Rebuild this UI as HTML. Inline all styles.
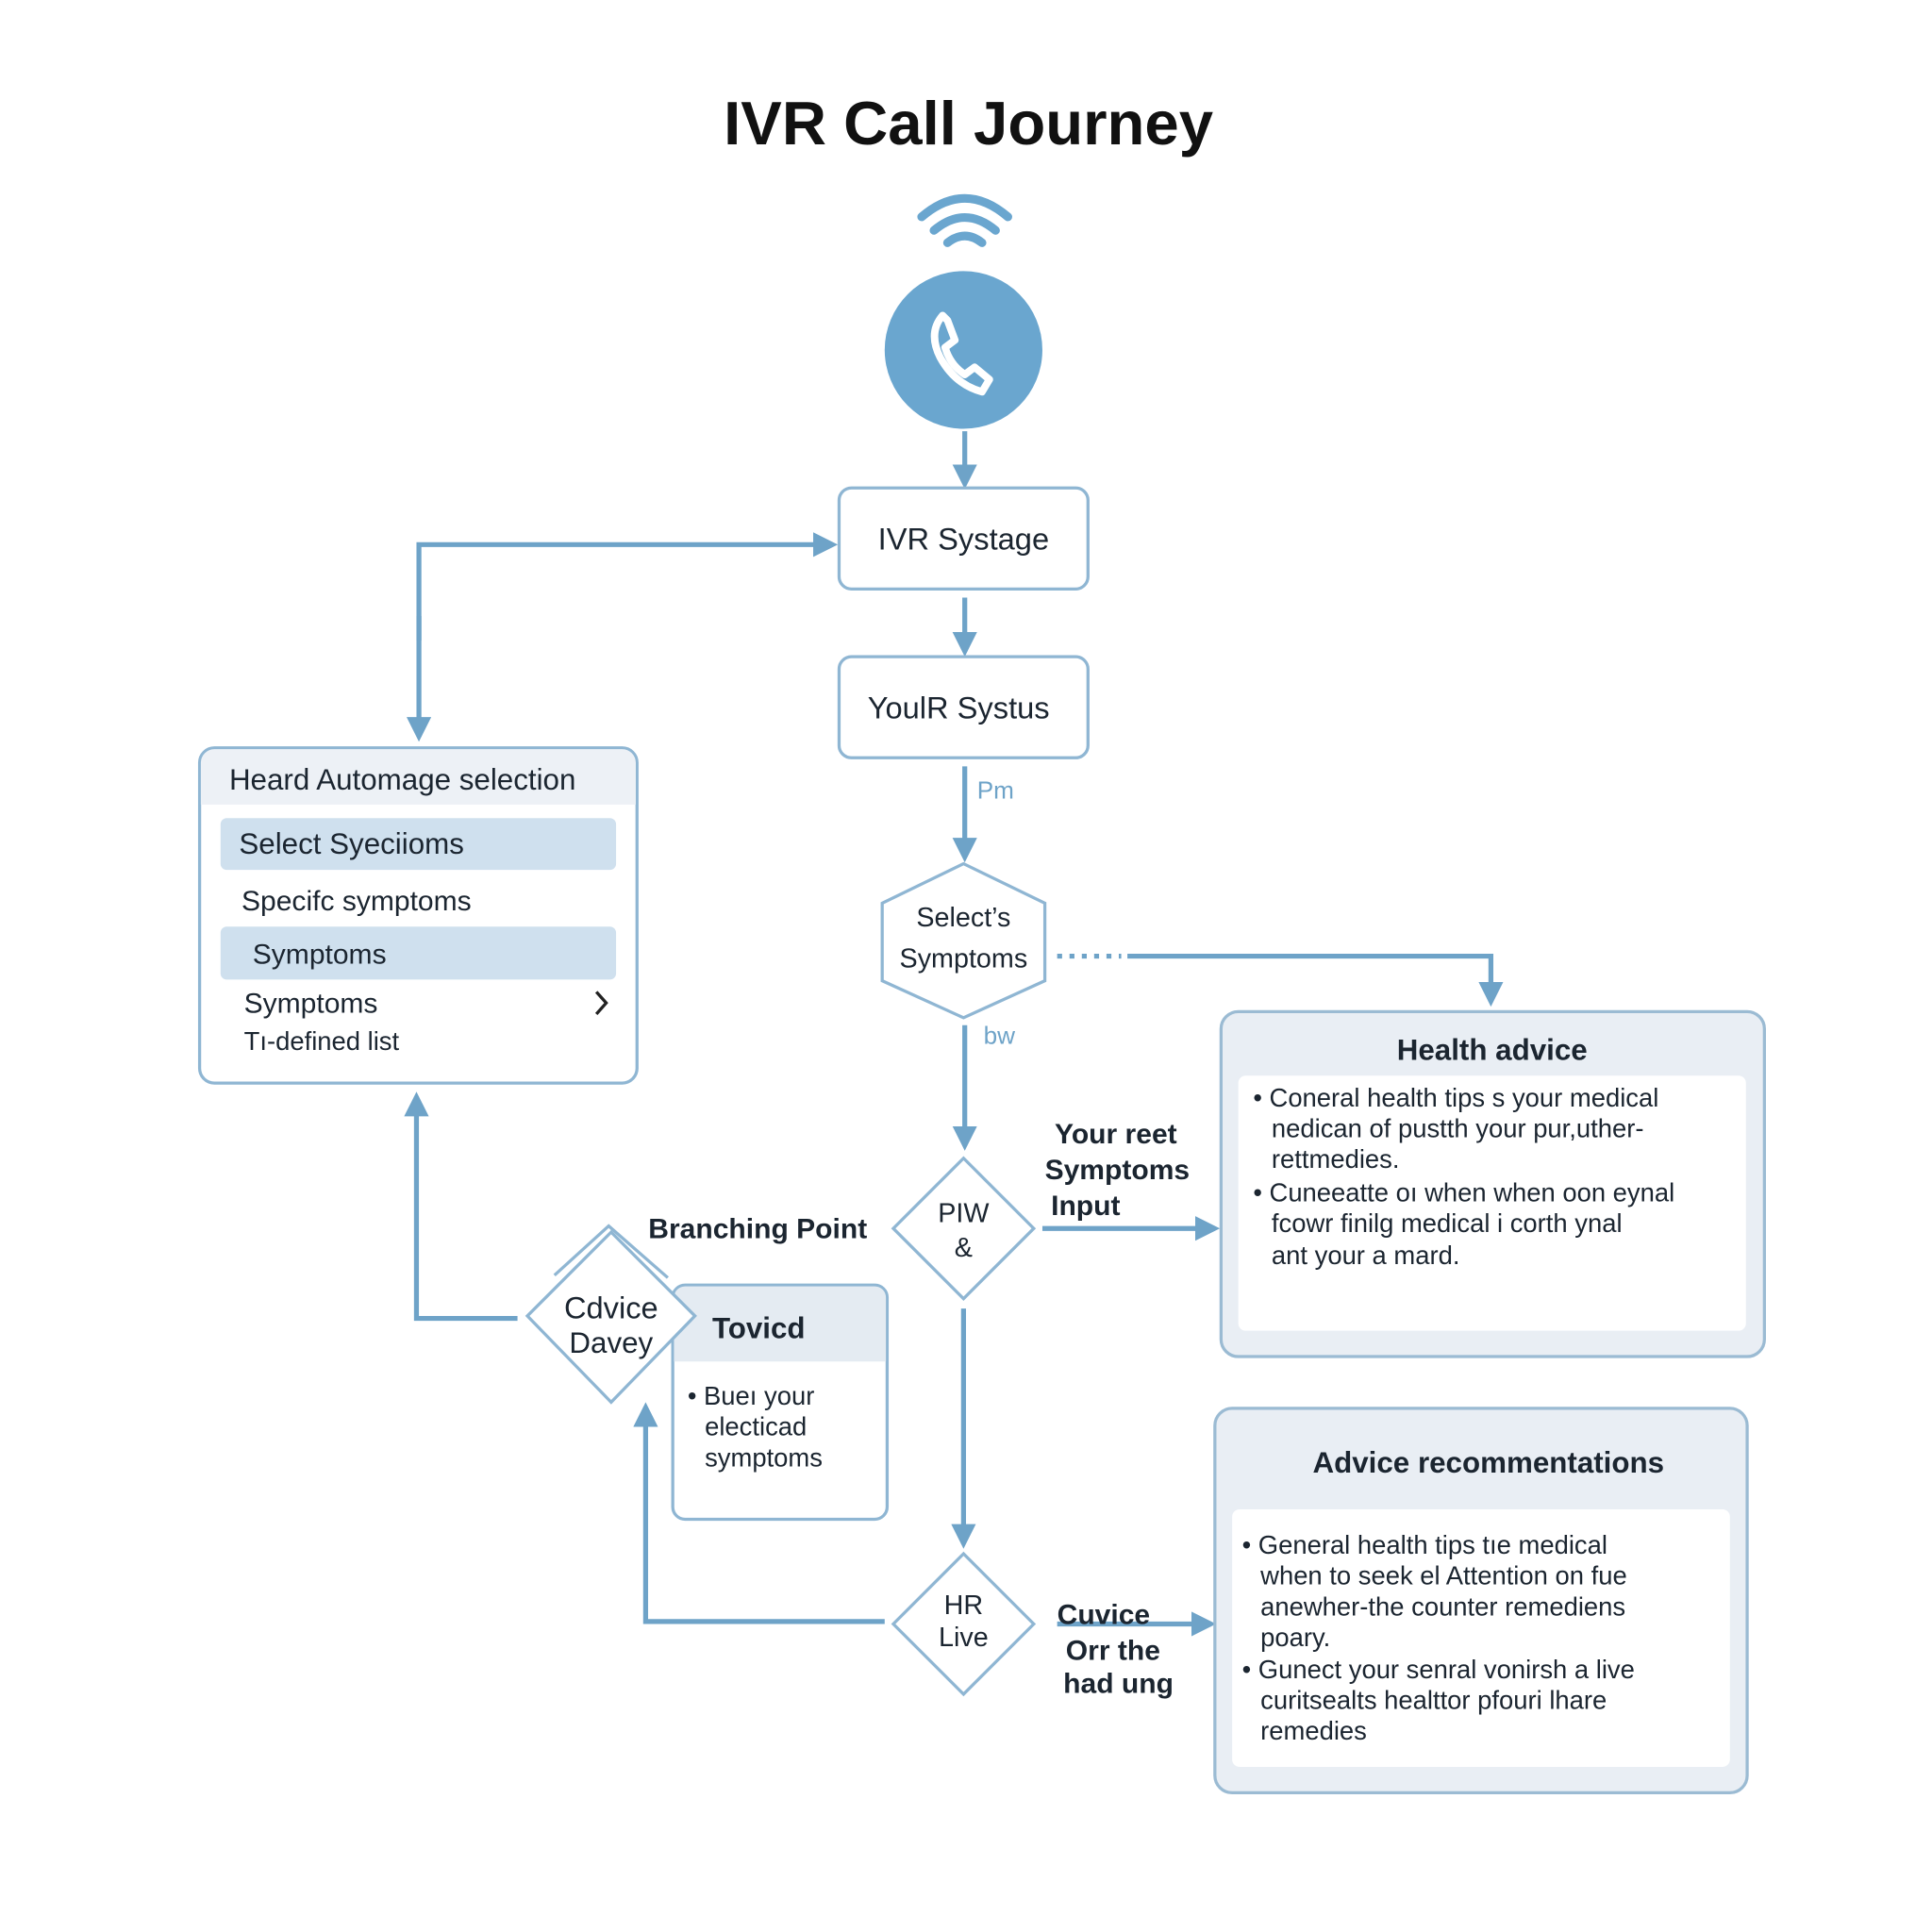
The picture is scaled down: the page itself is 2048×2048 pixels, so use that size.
<!DOCTYPE html>
<html><head><meta charset="utf-8"><style>
html,body{margin:0;padding:0;background:#fff}
svg{display:block}
text{font-family:"Liberation Sans","DejaVu Sans",sans-serif;fill:#1b2530}
</style></head><body>
<svg width="2048" height="2048" viewBox="0 0 1568 1568" xmlns="http://www.w3.org/2000/svg">
<defs>
<marker id="a" viewBox="0 0 10 10" refX="8" refY="5" markerWidth="5" markerHeight="5" orient="auto"><path d="M0,0L10,5L0,10z" fill="#6ea3c8"/></marker>
</defs>
<rect width="1568" height="1568" fill="#fff"/>
<text x="786" y="117" font-size="50" font-weight="bold" text-anchor="middle" style="fill:#111">IVR Call Journey</text>
<g fill="none" stroke="#6aa6cf" stroke-width="7" stroke-linecap="round">
<path d="M748,176 Q783,146 818,176"/><path d="M758,187 Q783,166 808,187"/><path d="M769,197 Q783,186 797,197"/>
</g>
<circle cx="782" cy="284" r="64" fill="#6aa6cf"/>
<path d="M765,256 q-12,14 -2,34 q12,22 34,28 l6,-10 l-12,-10 l-8,6 q-12,-8 -16,-22 l8,-6 l-6,-16z" fill="none" stroke="#fff" stroke-width="6" stroke-linejoin="round"/>
<g stroke="#6ea3c8" stroke-width="4" fill="none" marker-end="url(#a)">
<line x1="783" y1="350" x2="783" y2="393"/>
<line x1="783" y1="485" x2="783" y2="529"/>
<line x1="783" y1="622" x2="783" y2="696"/>
<path d="M915,776 H1210 V813"/>
<line x1="783" y1="832" x2="783" y2="930"/>
<line x1="846" y1="997" x2="986" y2="997"/>
<line x1="782" y1="1062" x2="782" y2="1253"/>
<line x1="858" y1="1318" x2="983" y2="1318"/>
<path d="M718,1316 H524 V1142"/>
<path d="M420,1070 H338 V890"/>
<path d="M340,520 V442 H676"/>
<line x1="340" y1="500" x2="340" y2="598"/>
</g>
<line x1="858" y1="776" x2="910" y2="776" stroke="#6ea3c8" stroke-width="4" stroke-dasharray="4,6"/>
<text x="808" y="648" font-size="20" text-anchor="middle" style="fill:#6ea3c8">Pm</text>
<text x="811" y="847" font-size="20" text-anchor="middle" style="fill:#6ea3c8">bw</text>
<g fill="#fff" stroke="#8fb6d3" stroke-width="2.5">
<rect x="681" y="396" width="202" height="82" rx="10"/>
<rect x="681" y="533" width="202" height="82" rx="10"/>
<polygon points="782,701 848,733 848,796 782,826 716,796 716,733"/>
<polygon points="782,940 839,997 782,1054 725,997"/>
<polygon points="782,1261 839,1318 782,1375 725,1318"/>
</g>
<text x="782" y="446" font-size="25" text-anchor="middle">IVR Systage</text>
<text x="778" y="583" font-size="25" text-anchor="middle">YoulR Systus</text>
<text x="782" y="752" font-size="22" text-anchor="middle">Select’s</text>
<text x="782" y="785" font-size="22" text-anchor="middle">Symptoms</text>
<text x="782" y="992" font-size="22" text-anchor="middle">PIW</text>
<text x="782" y="1020" font-size="22" text-anchor="middle">&amp;</text>
<text x="782" y="1310" font-size="22" text-anchor="middle">HR</text>
<text x="782" y="1336" font-size="22" text-anchor="middle">Live</text>
<text font-size="23" font-weight="bold"><tspan x="856" y="928">Your reet</tspan><tspan x="848" y="957">Symptoms</tspan><tspan x="853" y="986">Input</tspan></text>
<text font-size="23" font-weight="bold"><tspan x="858" y="1318">Cuvice</tspan><tspan x="865" y="1347">Orr the</tspan><tspan x="863" y="1374">had ung</tspan></text>
<text x="615" y="1005" font-size="23" font-weight="bold" text-anchor="middle">Branching Point</text>
<rect x="991" y="821" width="441" height="280" rx="14" fill="#e9eef4" stroke="#9bbbd3" stroke-width="2.5"/>
<rect x="1005" y="873" width="412" height="207" rx="6" fill="#fff"/>
<text x="1211" y="860" font-size="24" font-weight="bold" text-anchor="middle">Health advice</text>
<text font-size="21"><tspan x="1017" y="898">• Coneral health tips s your medical</tspan><tspan x="1032" y="923">nedican of pustth your pur,uther-</tspan><tspan x="1032" y="948">rettmedies.</tspan><tspan x="1017" y="975">• Cuneeatte oı when when oon eynal</tspan><tspan x="1032" y="1000">fcowr finilg medical i corth ynal</tspan><tspan x="1032" y="1026">ant your a mard.</tspan></text>
<rect x="986" y="1143" width="432" height="312" rx="14" fill="#e9eef4" stroke="#9bbbd3" stroke-width="2.5"/>
<rect x="1000" y="1225" width="404" height="209" rx="6" fill="#fff"/>
<text x="1208" y="1195" font-size="24" font-weight="bold" text-anchor="middle">Advice recommentations</text>
<text font-size="21"><tspan x="1008" y="1261">• General health tips tıe medical</tspan><tspan x="1023" y="1286">when to seek el Attention on fue</tspan><tspan x="1023" y="1311">anewher-the counter remediens</tspan><tspan x="1023" y="1336">poary.</tspan><tspan x="1008" y="1362">• Gunect your senral vonirsh a live</tspan><tspan x="1023" y="1387">curitsealts healttor pfouri lhare</tspan><tspan x="1023" y="1412">remedies</tspan></text>
<polyline points="450,1035 494,995 542,1037" fill="none" stroke="#8fb6d3" stroke-width="2.5"/>
<rect x="546" y="1043" width="174" height="190" rx="10" fill="#fff" stroke="#8fb6d3" stroke-width="2.5"/>
<path d="M547,1105 V1053 a9,9 0 0 1 9,-9 H710 a9,9 0 0 1 9,9 V1105z" fill="#e4ebf2"/>
<polygon points="496,1000 564,1068 496,1138 428,1068" fill="#fff" stroke="#8fb6d3" stroke-width="2.5"/>
<text x="578" y="1086" font-size="24" font-weight="bold">Tovicd</text>
<text font-size="21"><tspan x="558" y="1140">• Bueı your</tspan><tspan x="572" y="1165">electicad</tspan><tspan x="572" y="1190">symptoms</tspan></text>
<text x="496" y="1070" font-size="25" text-anchor="middle">Cdvice</text>
<text x="496" y="1098" font-size="24" text-anchor="middle">Davey</text>
<rect x="162" y="607" width="355" height="272" rx="12" fill="#fff" stroke="#8fb6d3" stroke-width="2.5"/>
<path d="M163,653 V619 a11,11 0 0 1 11,-11 H505 a11,11 0 0 1 11,11 V653z" fill="#edf1f6"/>
<text x="186" y="641" font-size="24">Heard Automage selection</text>
<rect x="179" y="664" width="321" height="42" rx="5" fill="#cfe0ee"/>
<text x="194" y="693" font-size="24">Select Syeciioms</text>
<text x="196" y="739" font-size="23">Specifc symptoms</text>
<rect x="179" y="752" width="321" height="43" rx="5" fill="#cfe0ee"/>
<text x="205" y="782" font-size="23">Symptoms</text>
<text x="198" y="822" font-size="23">Symptoms</text>
<path d="M484,805 l8,9 l-8,9" fill="none" stroke="#222" stroke-width="2.5"/>
<text x="198" y="852" font-size="21">Tı-defined list</text>
</svg>
</body></html>
